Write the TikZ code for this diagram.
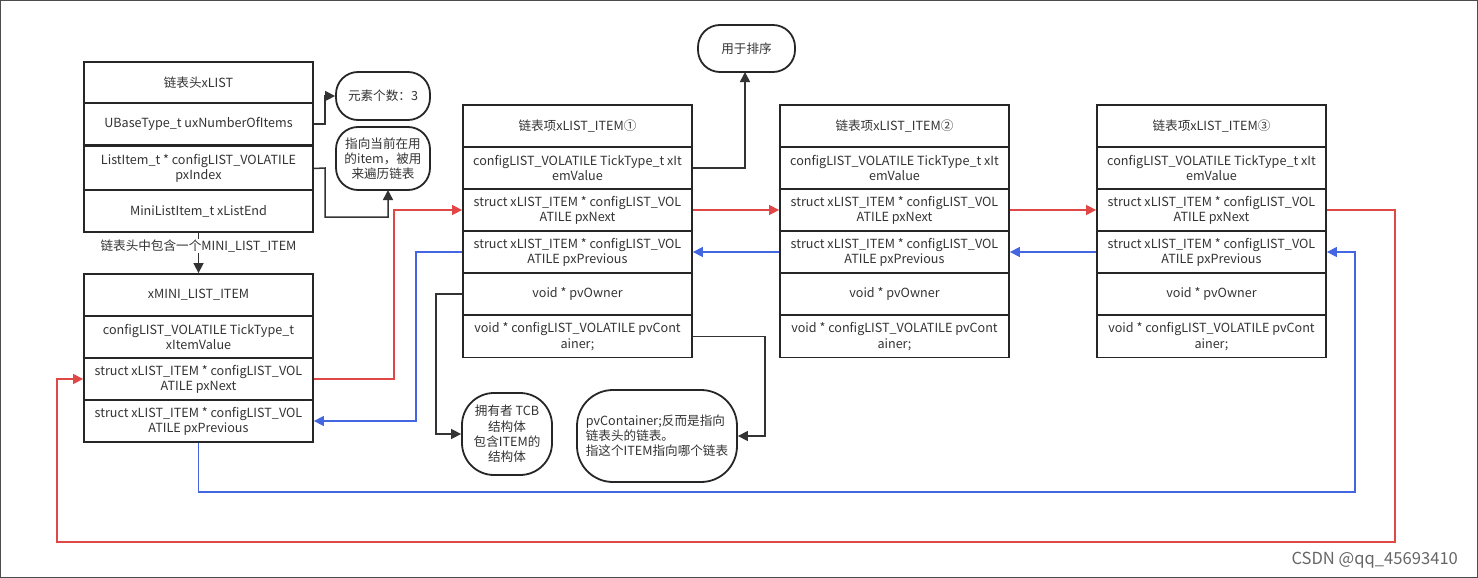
\documentclass[tikz,border=0pt]{standalone}
\usepackage{fontspec}
\setmainfont{Noto Sans CJK SC}
\usetikzlibrary{arrows.meta}
\definecolor{tx}{HTML}{333333}
\definecolor{rd}{HTML}{E04848}
\definecolor{bl}{HTML}{4466E0}
\begin{document}
\begin{tikzpicture}[x=0.5pt,y=-0.5pt,
  font=\fontsize{6.3}{7.6}\selectfont, text=tx,
  row/.style={draw=black!85,line width=0.9pt,minimum width=114.5pt,minimum height=21pt,inner sep=0pt,align=center},
  bub/.style={draw=black!85,line width=0.9pt,rounded corners=11pt,inner sep=0pt,align=center},
  con/.style={line width=0.75pt,draw=black!80,-{Triangle[length=5pt,width=5pt]}},
  rc/.style={con,draw=rd,-{Triangle[length=5pt,width=5pt,fill=rd]}},
  bc/.style={con,draw=bl,-{Triangle[length=5pt,width=5pt,fill=bl]}}]
\useasboundingbox (0,0) rectangle (1478,578);
\draw[black!70,line width=0.5pt] (0.5,0.5) rectangle (1477.5,577.5);
% list head
\node[row,minimum height=20.5pt] (h0) at (198.5,82.5) {链表头xLIST};
\node[row] (h1) at (198.5,124) {UBaseType\_t uxNumberOfItems};
\node[row,minimum height=22pt] (h2) at (198.5,168.5) {ListItem\_t * configLIST\_VOLATILE\\pxIndex};
\node[row] (h3) at (198.5,211) {MiniListItem\_t xListEnd};
% mini item
\node[row] (m0) at (198.5,295) {xMINI\_LIST\_ITEM};
\node[row] (m1) at (198.5,337) {configLIST\_VOLATILE TickType\_t\\xItemValue};
\node[row] (m2) at (198.5,379) {struct xLIST\_ITEM * configLIST\_VOL\\ATILE pxNext};
\node[row] (m3) at (198.5,421) {struct xLIST\_ITEM * configLIST\_VOL\\ATILE pxPrevious};
% items
\foreach \i/\x/\c in {1/577.5/①,2/894.5/②,3/1211.5/③}{
  \node[row] (i\i0) at (\x,126) {链表项xLIST\_ITEM\c};
  \node[row] (i\i1) at (\x,168) {configLIST\_VOLATILE TickType\_t xIt\\emValue};
  \node[row] (i\i2) at (\x,210) {struct xLIST\_ITEM * configLIST\_VOL\\ATILE pxNext};
  \node[row] (i\i3) at (\x,252) {struct xLIST\_ITEM * configLIST\_VOL\\ATILE pxPrevious};
  \node[row] (i\i4) at (\x,294) {void * pvOwner};
  \node[row] (i\i5) at (\x,336.5) {void * configLIST\_VOLATILE pvCont\\ainer;};
}
% bubbles
\node[bub,minimum width=47pt,minimum height=24pt] (b1) at (383,96) {元素个数：3};
\node[bub,minimum width=47pt,minimum height=31.5pt] (b2) at (383,158.5) {指向当前在用\\的item，被用\\来遍历链表};
\node[bub,minimum width=48.5pt,minimum height=23.5pt] (b3) at (746.5,48.5) {用于排序};
\node[bub,minimum width=45pt,minimum height=41pt,rounded corners=16pt] (b4) at (507,434) {拥有者 TCB\\结构体\\包含ITEM的\\结构体};
\node[bub,minimum width=80pt,minimum height=46pt,rounded corners=18pt,align=left] (b5) at (657,436) {pvContainer;反而是指向\\链表头的链表。\\指这个ITEM指向哪个链表};
% connectors
\draw[con] (h1.east) -- (325,124) |- (b1.west);
\draw[con] (h2.east) -- (325,168) |- (388,217) -- (388,190);
\draw[con] (h3.south) -- (m0.north) node[pos=0.33,fill=white,inner sep=0.5pt]{链表头中包含一个MINI\_LIST\_ITEM};
\draw[con] (i11.east) -- (745,168) -- (745,72);
\draw[con] (i14.west) -- (436,294) |- (b4.west);
\draw[con] (i15.east) -- (765,336.5) |- (b5.east);
\draw[rc] (m2.east) -- (394,379) |- (i12.west);
\draw[rc] (i12.east) -- (i22.west);
\draw[rc] (i22.east) -- (i32.west);
\draw[rc] (i32.east) -- (1395,210) -- (1395,542) -- (57,542) |- (m2.west);
\draw[bc] (i13.west) -- (416,252) |- (m3.east);
\draw[bc] (i23.west) -- (i13.east);
\draw[bc] (i33.west) -- (i23.east);
\draw[bc] (m3.south) -- (198.5,492) -- (1355,492) |- (i33.east);
\node[text=black!60,font=\fontsize{8.3}{10}\selectfont,anchor=east] (wm) at (1465,560) {CSDN @qq\_45693410};
\end{tikzpicture}
\end{document}
